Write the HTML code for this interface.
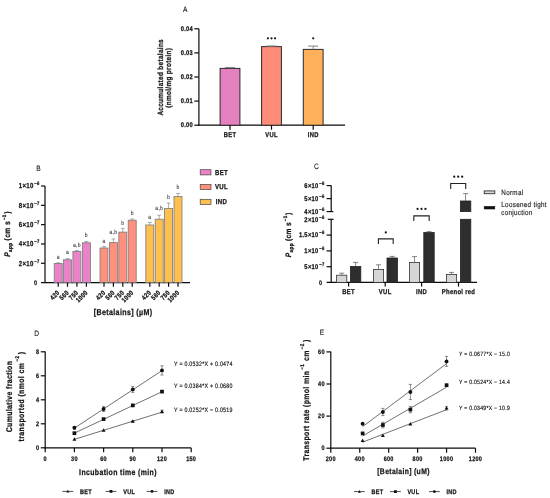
<!DOCTYPE html>
<html><head><meta charset="utf-8"><title>Figure</title>
<style>html,body{margin:0;padding:0;background:#fff;} svg{display:block;} text{font-family:"Liberation Sans", Arial, sans-serif;text-rendering:geometricPrecision;}</style>
</head><body>
<svg width="550" height="498" viewBox="0 0 550 498">
<rect width="550" height="498" fill="#fff"/>
<text font-size="7.92" stroke="#141414" stroke-width="0.1" text-anchor="middle" letter-spacing="0.372" fill="#141414" transform="translate(185.4 12.4) scale(0.8364 1)">A</text>
<line x1="198.9" y1="28.8" x2="198.9" y2="125.7" stroke="#0a0a0a" stroke-width="1.2"/>
<line x1="198.4" y1="125.2" x2="345" y2="125.2" stroke="#0a0a0a" stroke-width="1.2"/>
<line x1="194.3" y1="28.8" x2="198.9" y2="28.8" stroke="#0a0a0a" stroke-width="1.2"/>
<text font-size="6.82" font-weight="bold" stroke="#141414" stroke-width="0.25" text-anchor="end" letter-spacing="0.356" fill="#141414" transform="translate(193 31) scale(0.8364 1)">0.04</text>
<line x1="194.3" y1="52.9" x2="198.9" y2="52.9" stroke="#0a0a0a" stroke-width="1.2"/>
<text font-size="6.82" font-weight="bold" stroke="#141414" stroke-width="0.25" text-anchor="end" letter-spacing="0.356" fill="#141414" transform="translate(193 55.1) scale(0.8364 1)">0.03</text>
<line x1="194.3" y1="77" x2="198.9" y2="77" stroke="#0a0a0a" stroke-width="1.2"/>
<text font-size="6.82" font-weight="bold" stroke="#141414" stroke-width="0.25" text-anchor="end" letter-spacing="0.356" fill="#141414" transform="translate(193 79.2) scale(0.8364 1)">0.02</text>
<line x1="194.3" y1="101.1" x2="198.9" y2="101.1" stroke="#0a0a0a" stroke-width="1.2"/>
<text font-size="6.82" font-weight="bold" stroke="#141414" stroke-width="0.25" text-anchor="end" letter-spacing="0.356" fill="#141414" transform="translate(193 103.3) scale(0.8364 1)">0.01</text>
<line x1="194.3" y1="125.2" x2="198.9" y2="125.2" stroke="#0a0a0a" stroke-width="1.2"/>
<text font-size="6.82" font-weight="bold" stroke="#141414" stroke-width="0.25" text-anchor="end" letter-spacing="0.356" fill="#141414" transform="translate(193 127.4) scale(0.8364 1)">0.00</text>
<rect x="220.1" y="68.4" width="19.8" height="56.8" fill="#e580c0" stroke="#2a2a2a" stroke-width="1.0"/>
<line x1="230" y1="67.5" x2="230" y2="68.4" stroke="#777" stroke-width="0.9"/>
<line x1="225" y1="67.5" x2="235" y2="67.5" stroke="#888" stroke-width="1.1"/>
<line x1="230" y1="125.2" x2="230" y2="129.7" stroke="#0a0a0a" stroke-width="1.2"/>
<rect x="261.6" y="46.6" width="19.8" height="78.6" fill="#ff8c78" stroke="#2a2a2a" stroke-width="1.0"/>
<line x1="271.5" y1="46" x2="271.5" y2="46.6" stroke="#777" stroke-width="0.9"/>
<line x1="266.5" y1="46" x2="276.5" y2="46" stroke="#888" stroke-width="1.1"/>
<line x1="271.5" y1="125.2" x2="271.5" y2="129.7" stroke="#0a0a0a" stroke-width="1.2"/>
<circle cx="267.95" cy="38.3" r="1.1" fill="#111"/>
<circle cx="271.5" cy="38.3" r="1.1" fill="#111"/>
<circle cx="275.05" cy="38.3" r="1.1" fill="#111"/>
<rect x="303.3" y="49.4" width="19.8" height="75.8" fill="#ffb058" stroke="#2a2a2a" stroke-width="1.0"/>
<line x1="313.2" y1="46.1" x2="313.2" y2="49.4" stroke="#777" stroke-width="0.9"/>
<line x1="308.2" y1="46.1" x2="318.2" y2="46.1" stroke="#888" stroke-width="1.1"/>
<line x1="313.2" y1="125.2" x2="313.2" y2="129.7" stroke="#0a0a0a" stroke-width="1.2"/>
<circle cx="313.2" cy="38.3" r="1.1" fill="#111"/>
<text font-size="6.93" font-weight="bold" stroke="#141414" stroke-width="0.25" text-anchor="middle" letter-spacing="0.362" fill="#141414" transform="translate(230 136.7) scale(0.8364 1)">BET</text>
<text font-size="6.93" font-weight="bold" stroke="#141414" stroke-width="0.25" text-anchor="middle" letter-spacing="0.362" fill="#141414" transform="translate(271.5 136.7) scale(0.8364 1)">VUL</text>
<text font-size="6.93" font-weight="bold" stroke="#141414" stroke-width="0.25" text-anchor="middle" letter-spacing="0.362" fill="#141414" transform="translate(313.2 136.7) scale(0.8364 1)">IND</text>
<text font-size="7.65" font-weight="bold" stroke="#141414" stroke-width="0.25" text-anchor="middle" letter-spacing="0.399" fill="#141414" transform="translate(163.2 77.3) rotate(-90) scale(0.8364 1)">Accumulated betalains</text>
<text font-size="7.65" font-weight="bold" stroke="#141414" stroke-width="0.25" text-anchor="middle" letter-spacing="0.399" fill="#141414" transform="translate(170.9 77.7) rotate(-90) scale(0.8364 1)">(nmol/mg protein)</text>
<text font-size="7.92" stroke="#141414" stroke-width="0.1" text-anchor="middle" letter-spacing="0.372" fill="#141414" transform="translate(38.5 171.1) scale(0.8364 1)">B</text>
<line x1="45" y1="186" x2="45" y2="283.1" stroke="#0a0a0a" stroke-width="1.2"/>
<line x1="41" y1="282.6" x2="190" y2="282.6" stroke="#0a0a0a" stroke-width="1.2"/>
<line x1="41" y1="186" x2="45" y2="186" stroke="#0a0a0a" stroke-width="1.2"/>
<text font-size="7.26" font-weight="bold" stroke="#141414" stroke-width="0.25" text-anchor="end" letter-spacing="0.379" fill="#141414" transform="translate(39.6 188.3) scale(0.8364 1)">1×10<tspan font-size="5.06" dx="0.55" dy="-3.08">−6</tspan></text>
<line x1="41" y1="205.32" x2="45" y2="205.32" stroke="#0a0a0a" stroke-width="1.2"/>
<text font-size="7.26" font-weight="bold" stroke="#141414" stroke-width="0.25" text-anchor="end" letter-spacing="0.379" fill="#141414" transform="translate(39.6 207.62) scale(0.8364 1)">8×10<tspan font-size="5.06" dx="0.55" dy="-3.08">−7</tspan></text>
<line x1="41" y1="224.64" x2="45" y2="224.64" stroke="#0a0a0a" stroke-width="1.2"/>
<text font-size="7.26" font-weight="bold" stroke="#141414" stroke-width="0.25" text-anchor="end" letter-spacing="0.379" fill="#141414" transform="translate(39.6 226.94) scale(0.8364 1)">6×10<tspan font-size="5.06" dx="0.55" dy="-3.08">−7</tspan></text>
<line x1="41" y1="243.96" x2="45" y2="243.96" stroke="#0a0a0a" stroke-width="1.2"/>
<text font-size="7.26" font-weight="bold" stroke="#141414" stroke-width="0.25" text-anchor="end" letter-spacing="0.379" fill="#141414" transform="translate(39.6 246.26) scale(0.8364 1)">4×10<tspan font-size="5.06" dx="0.55" dy="-3.08">−7</tspan></text>
<line x1="41" y1="263.28" x2="45" y2="263.28" stroke="#0a0a0a" stroke-width="1.2"/>
<text font-size="7.26" font-weight="bold" stroke="#141414" stroke-width="0.25" text-anchor="end" letter-spacing="0.379" fill="#141414" transform="translate(39.6 265.58) scale(0.8364 1)">2×10<tspan font-size="5.06" dx="0.55" dy="-3.08">−7</tspan></text>
<text font-size="6.49" font-weight="bold" stroke="#141414" stroke-width="0.25" text-anchor="end" letter-spacing="0.339" fill="#141414" transform="translate(37.2 284.7) scale(0.8364 1)">0</text>
<rect x="54.2" y="263.4" width="8" height="19.2" fill="#ea82c8" stroke="#7a7a7a" stroke-width="0.8"/>
<line x1="58.2" y1="262.8" x2="58.2" y2="263.4" stroke="#777" stroke-width="0.6"/>
<line x1="56.2" y1="262.8" x2="60.2" y2="262.8" stroke="#777" stroke-width="0.6"/>
<line x1="58.2" y1="282.6" x2="58.2" y2="286.8" stroke="#0a0a0a" stroke-width="1.2"/>
<text font-size="6.05" stroke="#3a3a3a" stroke-width="0.08" text-anchor="middle" letter-spacing="0.284" fill="#3a3a3a" transform="translate(58.2 258.5) scale(0.8364 1)">a</text>
<rect x="63.5" y="259.8" width="8" height="22.8" fill="#ea82c8" stroke="#7a7a7a" stroke-width="0.8"/>
<line x1="67.5" y1="258.6" x2="67.5" y2="259.8" stroke="#777" stroke-width="0.6"/>
<line x1="65.5" y1="258.6" x2="69.5" y2="258.6" stroke="#777" stroke-width="0.6"/>
<line x1="67.5" y1="282.6" x2="67.5" y2="286.8" stroke="#0a0a0a" stroke-width="1.2"/>
<text font-size="6.05" stroke="#3a3a3a" stroke-width="0.08" text-anchor="middle" letter-spacing="0.284" fill="#3a3a3a" transform="translate(67.5 253.9) scale(0.8364 1)">a</text>
<rect x="72.9" y="251.5" width="8" height="31.1" fill="#ea82c8" stroke="#7a7a7a" stroke-width="0.8"/>
<line x1="76.9" y1="250.6" x2="76.9" y2="251.5" stroke="#777" stroke-width="0.6"/>
<line x1="74.9" y1="250.6" x2="78.9" y2="250.6" stroke="#777" stroke-width="0.6"/>
<line x1="76.9" y1="282.6" x2="76.9" y2="286.8" stroke="#0a0a0a" stroke-width="1.2"/>
<text font-size="6.05" stroke="#3a3a3a" stroke-width="0.08" text-anchor="middle" letter-spacing="0.284" fill="#3a3a3a" transform="translate(76.9 246.5) scale(0.8364 1)">a,b</text>
<rect x="82.4" y="242.8" width="8" height="39.8" fill="#ea82c8" stroke="#7a7a7a" stroke-width="0.8"/>
<line x1="86.4" y1="241.6" x2="86.4" y2="242.8" stroke="#777" stroke-width="0.6"/>
<line x1="84.4" y1="241.6" x2="88.4" y2="241.6" stroke="#777" stroke-width="0.6"/>
<line x1="86.4" y1="282.6" x2="86.4" y2="286.8" stroke="#0a0a0a" stroke-width="1.2"/>
<text font-size="6.05" stroke="#3a3a3a" stroke-width="0.08" text-anchor="middle" letter-spacing="0.284" fill="#3a3a3a" transform="translate(86.4 237.1) scale(0.8364 1)">b</text>
<text font-size="6.71" font-weight="bold" stroke="#141414" stroke-width="0.25" text-anchor="end" letter-spacing="0.350" fill="#141414" transform="translate(60 293.2) rotate(-45) scale(0.8364 1)">420</text>
<text font-size="6.71" font-weight="bold" stroke="#141414" stroke-width="0.25" text-anchor="end" letter-spacing="0.350" fill="#141414" transform="translate(69.3 293.2) rotate(-45) scale(0.8364 1)">560</text>
<text font-size="6.71" font-weight="bold" stroke="#141414" stroke-width="0.25" text-anchor="end" letter-spacing="0.350" fill="#141414" transform="translate(78.7 293.2) rotate(-45) scale(0.8364 1)">750</text>
<text font-size="6.71" font-weight="bold" stroke="#141414" stroke-width="0.25" text-anchor="end" letter-spacing="0.350" fill="#141414" transform="translate(88.2 293.2) rotate(-45) scale(0.8364 1)">1000</text>
<rect x="100" y="248" width="8" height="34.6" fill="#ff907e" stroke="#7a7a7a" stroke-width="0.8"/>
<line x1="104" y1="246.6" x2="104" y2="248" stroke="#777" stroke-width="0.6"/>
<line x1="102" y1="246.6" x2="106" y2="246.6" stroke="#777" stroke-width="0.6"/>
<line x1="104" y1="282.6" x2="104" y2="286.8" stroke="#0a0a0a" stroke-width="1.2"/>
<text font-size="6.05" stroke="#3a3a3a" stroke-width="0.08" text-anchor="middle" letter-spacing="0.284" fill="#3a3a3a" transform="translate(104 242.5) scale(0.8364 1)">a</text>
<rect x="109.4" y="242.6" width="8" height="40" fill="#ff907e" stroke="#7a7a7a" stroke-width="0.8"/>
<line x1="113.4" y1="239" x2="113.4" y2="242.6" stroke="#777" stroke-width="0.6"/>
<line x1="111.4" y1="239" x2="115.4" y2="239" stroke="#777" stroke-width="0.6"/>
<line x1="113.4" y1="282.6" x2="113.4" y2="286.8" stroke="#0a0a0a" stroke-width="1.2"/>
<text font-size="6.05" stroke="#3a3a3a" stroke-width="0.08" text-anchor="middle" letter-spacing="0.284" fill="#3a3a3a" transform="translate(113.4 233.9) scale(0.8364 1)">a,b</text>
<rect x="118.8" y="232.1" width="8" height="50.5" fill="#ff907e" stroke="#7a7a7a" stroke-width="0.8"/>
<line x1="122.8" y1="228.4" x2="122.8" y2="232.1" stroke="#777" stroke-width="0.6"/>
<line x1="120.8" y1="228.4" x2="124.8" y2="228.4" stroke="#777" stroke-width="0.6"/>
<line x1="122.8" y1="282.6" x2="122.8" y2="286.8" stroke="#0a0a0a" stroke-width="1.2"/>
<text font-size="6.05" stroke="#3a3a3a" stroke-width="0.08" text-anchor="middle" letter-spacing="0.284" fill="#3a3a3a" transform="translate(122.8 224.5) scale(0.8364 1)">b</text>
<rect x="128.2" y="220.2" width="8" height="62.4" fill="#ff907e" stroke="#7a7a7a" stroke-width="0.8"/>
<line x1="132.2" y1="219" x2="132.2" y2="220.2" stroke="#777" stroke-width="0.6"/>
<line x1="130.2" y1="219" x2="134.2" y2="219" stroke="#777" stroke-width="0.6"/>
<line x1="132.2" y1="282.6" x2="132.2" y2="286.8" stroke="#0a0a0a" stroke-width="1.2"/>
<text font-size="6.05" stroke="#3a3a3a" stroke-width="0.08" text-anchor="middle" letter-spacing="0.284" fill="#3a3a3a" transform="translate(132.2 214.5) scale(0.8364 1)">b</text>
<text font-size="6.71" font-weight="bold" stroke="#141414" stroke-width="0.25" text-anchor="end" letter-spacing="0.350" fill="#141414" transform="translate(105.8 293.2) rotate(-45) scale(0.8364 1)">420</text>
<text font-size="6.71" font-weight="bold" stroke="#141414" stroke-width="0.25" text-anchor="end" letter-spacing="0.350" fill="#141414" transform="translate(115.2 293.2) rotate(-45) scale(0.8364 1)">560</text>
<text font-size="6.71" font-weight="bold" stroke="#141414" stroke-width="0.25" text-anchor="end" letter-spacing="0.350" fill="#141414" transform="translate(124.6 293.2) rotate(-45) scale(0.8364 1)">750</text>
<text font-size="6.71" font-weight="bold" stroke="#141414" stroke-width="0.25" text-anchor="end" letter-spacing="0.350" fill="#141414" transform="translate(134 293.2) rotate(-45) scale(0.8364 1)">1000</text>
<rect x="145.8" y="225" width="8" height="57.6" fill="#fdbf50" stroke="#7a7a7a" stroke-width="0.8"/>
<line x1="149.8" y1="222.4" x2="149.8" y2="225" stroke="#777" stroke-width="0.6"/>
<line x1="147.8" y1="222.4" x2="151.8" y2="222.4" stroke="#777" stroke-width="0.6"/>
<line x1="149.8" y1="282.6" x2="149.8" y2="286.8" stroke="#0a0a0a" stroke-width="1.2"/>
<text font-size="6.05" stroke="#3a3a3a" stroke-width="0.08" text-anchor="middle" letter-spacing="0.284" fill="#3a3a3a" transform="translate(149.8 218.9) scale(0.8364 1)">a</text>
<rect x="155.2" y="219.2" width="8" height="63.4" fill="#fdbf50" stroke="#7a7a7a" stroke-width="0.8"/>
<line x1="159.2" y1="215.2" x2="159.2" y2="219.2" stroke="#777" stroke-width="0.6"/>
<line x1="157.2" y1="215.2" x2="161.2" y2="215.2" stroke="#777" stroke-width="0.6"/>
<line x1="159.2" y1="282.6" x2="159.2" y2="286.8" stroke="#0a0a0a" stroke-width="1.2"/>
<text font-size="6.05" stroke="#3a3a3a" stroke-width="0.08" text-anchor="middle" letter-spacing="0.284" fill="#3a3a3a" transform="translate(159.2 209.9) scale(0.8364 1)">a,b</text>
<rect x="164.6" y="208.4" width="8" height="74.2" fill="#fdbf50" stroke="#7a7a7a" stroke-width="0.8"/>
<line x1="168.6" y1="203" x2="168.6" y2="208.4" stroke="#777" stroke-width="0.6"/>
<line x1="166.6" y1="203" x2="170.6" y2="203" stroke="#777" stroke-width="0.6"/>
<line x1="168.6" y1="282.6" x2="168.6" y2="286.8" stroke="#0a0a0a" stroke-width="1.2"/>
<text font-size="6.05" stroke="#3a3a3a" stroke-width="0.08" text-anchor="middle" letter-spacing="0.284" fill="#3a3a3a" transform="translate(168.6 198.5) scale(0.8364 1)">b</text>
<rect x="174" y="196.4" width="8" height="86.2" fill="#fdbf50" stroke="#7a7a7a" stroke-width="0.8"/>
<line x1="178" y1="193.4" x2="178" y2="196.4" stroke="#777" stroke-width="0.6"/>
<line x1="176" y1="193.4" x2="180" y2="193.4" stroke="#777" stroke-width="0.6"/>
<line x1="178" y1="282.6" x2="178" y2="286.8" stroke="#0a0a0a" stroke-width="1.2"/>
<text font-size="6.05" stroke="#3a3a3a" stroke-width="0.08" text-anchor="middle" letter-spacing="0.284" fill="#3a3a3a" transform="translate(178 188.5) scale(0.8364 1)">b</text>
<text font-size="6.71" font-weight="bold" stroke="#141414" stroke-width="0.25" text-anchor="end" letter-spacing="0.350" fill="#141414" transform="translate(151.6 293.2) rotate(-45) scale(0.8364 1)">420</text>
<text font-size="6.71" font-weight="bold" stroke="#141414" stroke-width="0.25" text-anchor="end" letter-spacing="0.350" fill="#141414" transform="translate(161 293.2) rotate(-45) scale(0.8364 1)">560</text>
<text font-size="6.71" font-weight="bold" stroke="#141414" stroke-width="0.25" text-anchor="end" letter-spacing="0.350" fill="#141414" transform="translate(170.4 293.2) rotate(-45) scale(0.8364 1)">750</text>
<text font-size="6.71" font-weight="bold" stroke="#141414" stroke-width="0.25" text-anchor="end" letter-spacing="0.350" fill="#141414" transform="translate(179.8 293.2) rotate(-45) scale(0.8364 1)">1000</text>
<text font-size="8.47" font-weight="bold" stroke="#141414" stroke-width="0.25" letter-spacing="0.442" fill="#141414" transform="translate(93.7 314.6) scale(0.8364 1)">[Betalains] (µM)</text>
<text font-size="8.14" font-weight="bold" stroke="#141414" stroke-width="0.25" text-anchor="middle" letter-spacing="0.425" fill="#141414" transform="translate(10.2 234) rotate(-90) scale(0.8364 1)"><tspan font-style="italic">P</tspan><tspan font-size="5.5" dy="1.76">app</tspan><tspan dy="-1.76"> (cm s</tspan><tspan font-size="5.28" dx="0.88" dy="-3.96">−1</tspan><tspan dx="0.66" dy="3.96">)</tspan></text>
<rect x="200.2" y="169.7" width="10.8" height="5.2" fill="#ea82c8" stroke="#444" stroke-width="0.7"/>
<text font-size="7.26" font-weight="bold" stroke="#141414" stroke-width="0.25" letter-spacing="0.379" fill="#141414" transform="translate(215 174.6) scale(0.8364 1)">BET</text>
<rect x="200.2" y="184.4" width="10.8" height="5.2" fill="#ff907e" stroke="#444" stroke-width="0.7"/>
<text font-size="7.26" font-weight="bold" stroke="#141414" stroke-width="0.25" letter-spacing="0.379" fill="#141414" transform="translate(215 189.3) scale(0.8364 1)">VUL</text>
<rect x="200.2" y="199.3" width="10.8" height="5.2" fill="#fdbf50" stroke="#444" stroke-width="0.7"/>
<text font-size="7.26" font-weight="bold" stroke="#141414" stroke-width="0.25" letter-spacing="0.379" fill="#141414" transform="translate(215.8 204.2) scale(0.8364 1)">IND</text>
<text font-size="7.92" stroke="#141414" stroke-width="0.1" text-anchor="middle" letter-spacing="0.372" fill="#141414" transform="translate(316.6 169.4) scale(0.8364 1)">C</text>
<line x1="331.2" y1="185.6" x2="331.2" y2="211.6" stroke="#0a0a0a" stroke-width="1.2"/>
<line x1="326.6" y1="185.6" x2="331.2" y2="185.6" stroke="#0a0a0a" stroke-width="1.2"/>
<text font-size="6.93" font-weight="bold" stroke="#141414" stroke-width="0.25" text-anchor="end" letter-spacing="0.362" fill="#141414" transform="translate(324.6 187.8) scale(0.8364 1)">6×10<tspan font-size="5.06" dx="0.66" dy="-2.97">−6</tspan></text>
<line x1="326.6" y1="198.6" x2="331.2" y2="198.6" stroke="#0a0a0a" stroke-width="1.2"/>
<text font-size="6.93" font-weight="bold" stroke="#141414" stroke-width="0.25" text-anchor="end" letter-spacing="0.362" fill="#141414" transform="translate(324.6 200.8) scale(0.8364 1)">5×10<tspan font-size="5.06" dx="0.66" dy="-2.97">−6</tspan></text>
<line x1="326.6" y1="211.6" x2="333.4" y2="211.6" stroke="#0a0a0a" stroke-width="1.2"/>
<text font-size="6.93" font-weight="bold" stroke="#141414" stroke-width="0.25" text-anchor="end" letter-spacing="0.362" fill="#141414" transform="translate(324.6 213.8) scale(0.8364 1)">4×10<tspan font-size="5.06" dx="0.66" dy="-2.97">−6</tspan></text>
<line x1="331.2" y1="219.3" x2="331.2" y2="282.9" stroke="#0a0a0a" stroke-width="1.2"/>
<line x1="326.6" y1="282.4" x2="477" y2="282.4" stroke="#0a0a0a" stroke-width="1.2"/>
<line x1="327.8" y1="219.3" x2="333.6" y2="219.3" stroke="#0a0a0a" stroke-width="1.2"/>
<text font-size="6.93" font-weight="bold" stroke="#141414" stroke-width="0.25" text-anchor="end" letter-spacing="0.362" fill="#141414" transform="translate(324.6 221.5) scale(0.8364 1)">2×10<tspan font-size="5.06" dx="0.66" dy="-2.97">−6</tspan></text>
<line x1="326.6" y1="235.1" x2="331.2" y2="235.1" stroke="#0a0a0a" stroke-width="1.2"/>
<text font-size="6.93" font-weight="bold" stroke="#141414" stroke-width="0.25" text-anchor="end" letter-spacing="0.362" fill="#141414" transform="translate(324.6 237.3) scale(0.8364 1)">1.5×10<tspan font-size="5.06" dx="0.66" dy="-2.97">−6</tspan></text>
<line x1="326.6" y1="250.9" x2="331.2" y2="250.9" stroke="#0a0a0a" stroke-width="1.2"/>
<text font-size="6.93" font-weight="bold" stroke="#141414" stroke-width="0.25" text-anchor="end" letter-spacing="0.362" fill="#141414" transform="translate(324.6 253.1) scale(0.8364 1)">1×10<tspan font-size="5.06" dx="0.66" dy="-2.97">−6</tspan></text>
<line x1="326.6" y1="266.7" x2="331.2" y2="266.7" stroke="#0a0a0a" stroke-width="1.2"/>
<text font-size="6.93" font-weight="bold" stroke="#141414" stroke-width="0.25" text-anchor="end" letter-spacing="0.362" fill="#141414" transform="translate(324.6 268.9) scale(0.8364 1)">5×10<tspan font-size="5.06" dx="0.66" dy="-2.97">−7</tspan></text>
<text font-size="6.49" font-weight="bold" stroke="#141414" stroke-width="0.25" text-anchor="end" letter-spacing="0.339" fill="#141414" transform="translate(322.4 284.5) scale(0.8364 1)">0</text>
<rect x="336.6" y="275.2" width="10.2" height="7.2" fill="#d6d6d6" stroke="#333" stroke-width="0.8"/>
<line x1="341.7" y1="273.2" x2="341.7" y2="275.2" stroke="#555" stroke-width="0.7"/>
<line x1="339.2" y1="273.2" x2="344.2" y2="273.2" stroke="#555" stroke-width="0.7"/>
<rect x="350.4" y="266.4" width="10.4" height="16" fill="#2e2e2e" stroke="#222" stroke-width="0.8"/>
<line x1="355.6" y1="262.4" x2="355.6" y2="266.4" stroke="#555" stroke-width="0.7"/>
<line x1="353.1" y1="262.4" x2="358.1" y2="262.4" stroke="#555" stroke-width="0.7"/>
<line x1="348.6" y1="282.4" x2="348.6" y2="286.6" stroke="#0a0a0a" stroke-width="1.2"/>
<text font-size="7.04" font-weight="bold" stroke="#141414" stroke-width="0.25" text-anchor="middle" letter-spacing="0.367" fill="#141414" transform="translate(348.6 294.3) scale(0.8364 1)">BET</text>
<rect x="373.4" y="269.4" width="10.2" height="13" fill="#d6d6d6" stroke="#333" stroke-width="0.8"/>
<line x1="378.5" y1="264.8" x2="378.5" y2="269.4" stroke="#555" stroke-width="0.7"/>
<line x1="376" y1="264.8" x2="381" y2="264.8" stroke="#555" stroke-width="0.7"/>
<rect x="387" y="258" width="10.4" height="24.4" fill="#2e2e2e" stroke="#222" stroke-width="0.8"/>
<line x1="392.2" y1="256.4" x2="392.2" y2="258" stroke="#555" stroke-width="0.7"/>
<line x1="389.7" y1="256.4" x2="394.7" y2="256.4" stroke="#555" stroke-width="0.7"/>
<line x1="385.2" y1="282.4" x2="385.2" y2="286.6" stroke="#0a0a0a" stroke-width="1.2"/>
<text font-size="7.04" font-weight="bold" stroke="#141414" stroke-width="0.25" text-anchor="middle" letter-spacing="0.367" fill="#141414" transform="translate(385.2 294.3) scale(0.8364 1)">VUL</text>
<rect x="409.4" y="262.4" width="10.2" height="20" fill="#d6d6d6" stroke="#333" stroke-width="0.8"/>
<line x1="414.5" y1="256.6" x2="414.5" y2="262.4" stroke="#555" stroke-width="0.7"/>
<line x1="412" y1="256.6" x2="417" y2="256.6" stroke="#555" stroke-width="0.7"/>
<rect x="423.8" y="232.5" width="10.4" height="49.9" fill="#2e2e2e" stroke="#222" stroke-width="0.8"/>
<line x1="429" y1="231.6" x2="429" y2="232.5" stroke="#555" stroke-width="0.7"/>
<line x1="426.5" y1="231.6" x2="431.5" y2="231.6" stroke="#555" stroke-width="0.7"/>
<line x1="421.6" y1="282.4" x2="421.6" y2="286.6" stroke="#0a0a0a" stroke-width="1.2"/>
<text font-size="7.04" font-weight="bold" stroke="#141414" stroke-width="0.25" text-anchor="middle" letter-spacing="0.367" fill="#141414" transform="translate(421.6 294.3) scale(0.8364 1)">IND</text>
<rect x="446.4" y="274.4" width="10.2" height="8" fill="#d6d6d6" stroke="#333" stroke-width="0.8"/>
<line x1="451.5" y1="272.4" x2="451.5" y2="274.4" stroke="#555" stroke-width="0.7"/>
<line x1="449" y1="272.4" x2="454" y2="272.4" stroke="#555" stroke-width="0.7"/>
<rect x="460.4" y="219.3" width="10.4" height="63.1" fill="#2e2e2e" stroke="#222" stroke-width="0.8"/>
<line x1="458.5" y1="282.4" x2="458.5" y2="286.6" stroke="#0a0a0a" stroke-width="1.2"/>
<text font-size="7.04" font-weight="bold" stroke="#141414" stroke-width="0.25" text-anchor="middle" letter-spacing="0.367" fill="#141414" transform="translate(458.5 294.3) scale(0.8364 1)">Phenol red</text>
<rect x="460.4" y="201" width="10.4" height="10.6" fill="#2e2e2e" stroke="#222" stroke-width="0.8"/>
<line x1="465.6" y1="193.6" x2="465.6" y2="201" stroke="#555" stroke-width="0.7"/>
<line x1="463.1" y1="193.6" x2="468.1" y2="193.6" stroke="#555" stroke-width="0.7"/>
<polyline points="378.4,244 378.4,238.9 393.2,238.9 393.2,244" fill="none" stroke="#222" stroke-width="1.1"/>
<circle cx="385.8" cy="232.4" r="1.1" fill="#111"/>
<polyline points="413.8,221 413.8,215.9 429.2,215.9 429.2,221" fill="none" stroke="#222" stroke-width="1.1"/>
<circle cx="417.55" cy="208.9" r="1.1" fill="#111"/>
<circle cx="421.5" cy="208.9" r="1.1" fill="#111"/>
<circle cx="425.45" cy="208.9" r="1.1" fill="#111"/>
<polyline points="450.7,189 450.7,183.5 465.7,183.5 465.7,189" fill="none" stroke="#222" stroke-width="1.1"/>
<circle cx="454.25" cy="176.7" r="1.1" fill="#111"/>
<circle cx="458.2" cy="176.7" r="1.1" fill="#111"/>
<circle cx="462.15" cy="176.7" r="1.1" fill="#111"/>
<text font-size="7.92" font-weight="bold" stroke="#141414" stroke-width="0.25" text-anchor="middle" letter-spacing="0.413" fill="#141414" transform="translate(291.4 234.8) rotate(-90) scale(0.8364 1)"><tspan font-style="italic">P</tspan><tspan font-size="5.5" dy="1.76">app</tspan><tspan dy="-1.76"> (cm s</tspan><tspan font-size="5.28" dx="0.88" dy="-3.96">−1</tspan><tspan dx="0.66" dy="3.96">)</tspan></text>
<rect x="484.2" y="190.9" width="10.6" height="2.8" fill="#d6d6d6" stroke="#333" stroke-width="0.9"/>
<rect x="484.2" y="206.4" width="10.6" height="2.6" fill="#111" stroke="#111" stroke-width="0.6"/>
<text font-size="7.54" stroke="#1a1a1a" stroke-width="0.15" letter-spacing="0.354" fill="#1a1a1a" transform="translate(501.3 195) scale(0.8364 1)">Normal</text>
<text font-size="7.54" stroke="#1a1a1a" stroke-width="0.15" letter-spacing="0.354" fill="#1a1a1a" transform="translate(501.3 206.8) scale(0.8364 1)">Loosened tight</text>
<text font-size="7.54" stroke="#1a1a1a" stroke-width="0.15" letter-spacing="0.354" fill="#1a1a1a" transform="translate(501.3 214.9) scale(0.8364 1)">conjuction</text>
<text font-size="7.92" stroke="#141414" stroke-width="0.1" text-anchor="middle" letter-spacing="0.372" fill="#141414" transform="translate(36.7 335.6) scale(0.8364 1)">D</text>
<line x1="45.2" y1="351.4" x2="45.2" y2="448.3" stroke="#0a0a0a" stroke-width="1.2"/>
<line x1="44.7" y1="447.8" x2="191" y2="447.8" stroke="#0a0a0a" stroke-width="1.2"/>
<line x1="40.8" y1="447.8" x2="45.2" y2="447.8" stroke="#0a0a0a" stroke-width="1.2"/>
<text font-size="6.6" font-weight="bold" stroke="#141414" stroke-width="0.25" text-anchor="end" letter-spacing="0.344" fill="#141414" transform="translate(39.3 450) scale(0.8364 1)">0</text>
<line x1="40.8" y1="423.8" x2="45.2" y2="423.8" stroke="#0a0a0a" stroke-width="1.2"/>
<text font-size="6.6" font-weight="bold" stroke="#141414" stroke-width="0.25" text-anchor="end" letter-spacing="0.344" fill="#141414" transform="translate(39.3 426) scale(0.8364 1)">2</text>
<line x1="40.8" y1="399.8" x2="45.2" y2="399.8" stroke="#0a0a0a" stroke-width="1.2"/>
<text font-size="6.6" font-weight="bold" stroke="#141414" stroke-width="0.25" text-anchor="end" letter-spacing="0.344" fill="#141414" transform="translate(39.3 402) scale(0.8364 1)">4</text>
<line x1="40.8" y1="375.8" x2="45.2" y2="375.8" stroke="#0a0a0a" stroke-width="1.2"/>
<text font-size="6.6" font-weight="bold" stroke="#141414" stroke-width="0.25" text-anchor="end" letter-spacing="0.344" fill="#141414" transform="translate(39.3 378) scale(0.8364 1)">6</text>
<line x1="40.8" y1="351.8" x2="45.2" y2="351.8" stroke="#0a0a0a" stroke-width="1.2"/>
<text font-size="6.6" font-weight="bold" stroke="#141414" stroke-width="0.25" text-anchor="end" letter-spacing="0.344" fill="#141414" transform="translate(39.3 354) scale(0.8364 1)">8</text>
<line x1="45.2" y1="447.8" x2="45.2" y2="452.3" stroke="#0a0a0a" stroke-width="1.2"/>
<text font-size="6.6" font-weight="bold" stroke="#141414" stroke-width="0.25" text-anchor="middle" letter-spacing="0.344" fill="#141414" transform="translate(45.2 460.6) scale(0.8364 1)">0</text>
<line x1="74.4" y1="447.8" x2="74.4" y2="452.3" stroke="#0a0a0a" stroke-width="1.2"/>
<text font-size="6.6" font-weight="bold" stroke="#141414" stroke-width="0.25" text-anchor="middle" letter-spacing="0.344" fill="#141414" transform="translate(74.4 460.6) scale(0.8364 1)">30</text>
<line x1="103.6" y1="447.8" x2="103.6" y2="452.3" stroke="#0a0a0a" stroke-width="1.2"/>
<text font-size="6.6" font-weight="bold" stroke="#141414" stroke-width="0.25" text-anchor="middle" letter-spacing="0.344" fill="#141414" transform="translate(103.6 460.6) scale(0.8364 1)">60</text>
<line x1="132.8" y1="447.8" x2="132.8" y2="452.3" stroke="#0a0a0a" stroke-width="1.2"/>
<text font-size="6.6" font-weight="bold" stroke="#141414" stroke-width="0.25" text-anchor="middle" letter-spacing="0.344" fill="#141414" transform="translate(132.8 460.6) scale(0.8364 1)">90</text>
<line x1="162" y1="447.8" x2="162" y2="452.3" stroke="#0a0a0a" stroke-width="1.2"/>
<text font-size="6.6" font-weight="bold" stroke="#141414" stroke-width="0.25" text-anchor="middle" letter-spacing="0.344" fill="#141414" transform="translate(162 460.6) scale(0.8364 1)">120</text>
<line x1="191.19" y1="447.8" x2="191.19" y2="452.3" stroke="#0a0a0a" stroke-width="1.2"/>
<text font-size="6.6" font-weight="bold" stroke="#141414" stroke-width="0.25" text-anchor="middle" letter-spacing="0.344" fill="#141414" transform="translate(191.19 460.6) scale(0.8364 1)">150</text>
<text font-size="8.3" font-weight="bold" stroke="#141414" stroke-width="0.25" text-anchor="middle" letter-spacing="0.433" fill="#141414" transform="translate(118 475) scale(0.8364 1)">Incubation time (min)</text>
<text font-size="8.3" font-weight="bold" stroke="#141414" stroke-width="0.25" text-anchor="middle" letter-spacing="0.433" fill="#141414" transform="translate(12.2 396.5) rotate(-90) scale(0.8364 1)">Cumulative fraction</text>
<text font-size="8.3" font-weight="bold" stroke="#141414" stroke-width="0.25" text-anchor="middle" letter-spacing="0.433" fill="#141414" transform="translate(23.6 396.5) rotate(-90) scale(0.8364 1)">transported (nmol cm<tspan font-size="5.5" dx="1.54" dy="-4.4">−2</tspan><tspan dx="1.54" dy="4.4">)</tspan></text>
<line x1="74.4" y1="439.35" x2="162" y2="412.13" stroke="#333" stroke-width="0.7"/>
<polygon points="74.4,437.36 76.34,440.79 72.46,440.79" fill="#111"/>
<polygon points="103.6,428.26 105.54,431.69 101.66,431.69" fill="#111"/>
<line x1="132.8" y1="420.8" x2="132.8" y2="422" stroke="#444" stroke-width="0.6"/>
<line x1="131.2" y1="420.8" x2="134.4" y2="420.8" stroke="#444" stroke-width="0.6"/>
<line x1="131.2" y1="422" x2="134.4" y2="422" stroke="#444" stroke-width="0.6"/>
<polygon points="132.8,419.36 134.74,422.79 130.85,422.79" fill="#111"/>
<line x1="162" y1="410.1" x2="162" y2="413.1" stroke="#444" stroke-width="0.6"/>
<line x1="160.4" y1="410.1" x2="163.6" y2="410.1" stroke="#444" stroke-width="0.6"/>
<line x1="160.4" y1="413.1" x2="163.6" y2="413.1" stroke="#444" stroke-width="0.6"/>
<polygon points="162,409.56 163.94,412.99 160.05,412.99" fill="#111"/>
<line x1="74.4" y1="433.16" x2="162" y2="391.69" stroke="#333" stroke-width="0.7"/>
<rect x="72.55" y="431.35" width="3.7" height="3.7" fill="#111"/>
<rect x="101.75" y="417.25" width="3.7" height="3.7" fill="#111"/>
<line x1="132.8" y1="404.6" x2="132.8" y2="406.2" stroke="#444" stroke-width="0.6"/>
<line x1="131.2" y1="404.6" x2="134.4" y2="404.6" stroke="#444" stroke-width="0.6"/>
<line x1="131.2" y1="406.2" x2="134.4" y2="406.2" stroke="#444" stroke-width="0.6"/>
<rect x="130.95" y="403.55" width="3.7" height="3.7" fill="#111"/>
<line x1="162" y1="390.6" x2="162" y2="392.6" stroke="#444" stroke-width="0.6"/>
<line x1="160.4" y1="390.6" x2="163.6" y2="390.6" stroke="#444" stroke-width="0.6"/>
<line x1="160.4" y1="392.6" x2="163.6" y2="392.6" stroke="#444" stroke-width="0.6"/>
<rect x="160.15" y="389.75" width="3.7" height="3.7" fill="#111"/>
<line x1="74.4" y1="428.08" x2="162" y2="370.62" stroke="#333" stroke-width="0.7"/>
<line x1="74.4" y1="426.6" x2="74.4" y2="429" stroke="#444" stroke-width="0.6"/>
<line x1="72.8" y1="426.6" x2="76" y2="426.6" stroke="#444" stroke-width="0.6"/>
<line x1="72.8" y1="429" x2="76" y2="429" stroke="#444" stroke-width="0.6"/>
<circle cx="74.4" cy="427.8" r="1.94" fill="#111"/>
<line x1="103.6" y1="406.5" x2="103.6" y2="411.5" stroke="#444" stroke-width="0.6"/>
<line x1="102" y1="406.5" x2="105.2" y2="406.5" stroke="#444" stroke-width="0.6"/>
<line x1="102" y1="411.5" x2="105.2" y2="411.5" stroke="#444" stroke-width="0.6"/>
<circle cx="103.6" cy="409" r="1.94" fill="#111"/>
<line x1="132.8" y1="386.4" x2="132.8" y2="392.4" stroke="#444" stroke-width="0.6"/>
<line x1="131.2" y1="386.4" x2="134.4" y2="386.4" stroke="#444" stroke-width="0.6"/>
<line x1="131.2" y1="392.4" x2="134.4" y2="392.4" stroke="#444" stroke-width="0.6"/>
<circle cx="132.8" cy="389.4" r="1.94" fill="#111"/>
<line x1="162" y1="365.8" x2="162" y2="375" stroke="#444" stroke-width="0.6"/>
<line x1="160.4" y1="365.8" x2="163.6" y2="365.8" stroke="#444" stroke-width="0.6"/>
<line x1="160.4" y1="375" x2="163.6" y2="375" stroke="#444" stroke-width="0.6"/>
<circle cx="162" cy="370.4" r="1.94" fill="#111"/>
<text font-size="6.33" stroke="#111" stroke-width="0.15" letter-spacing="0.297" fill="#111" transform="translate(174 365.6) scale(0.8364 1)">Y = 0.0532*X + 0.0474</text>
<text font-size="6.33" stroke="#111" stroke-width="0.15" letter-spacing="0.297" fill="#111" transform="translate(174 387.6) scale(0.8364 1)">Y = 0.0384*X + 0.0680</text>
<text font-size="6.33" stroke="#111" stroke-width="0.15" letter-spacing="0.297" fill="#111" transform="translate(174 412.2) scale(0.8364 1)">Y = 0.0252*X − 0.0519</text>
<line x1="62.4" y1="491.4" x2="73.2" y2="491.4" stroke="#222" stroke-width="0.8"/>
<polygon points="67.8,489.86 69.27,492.45 66.33,492.45" fill="#111"/>
<text font-size="6.6" font-weight="bold" stroke="#141414" stroke-width="0.25" letter-spacing="0.344" fill="#141414" transform="translate(80 493.6) scale(0.8364 1)">BET</text>
<line x1="105.6" y1="491.4" x2="116.4" y2="491.4" stroke="#222" stroke-width="0.8"/>
<rect x="109.6" y="490" width="2.8" height="2.8" fill="#111"/>
<text font-size="6.6" font-weight="bold" stroke="#141414" stroke-width="0.25" letter-spacing="0.344" fill="#141414" transform="translate(123.2 493.6) scale(0.8364 1)">VUL</text>
<line x1="146.6" y1="491.4" x2="157.4" y2="491.4" stroke="#222" stroke-width="0.8"/>
<circle cx="152" cy="491.4" r="1.47" fill="#111"/>
<text font-size="6.6" font-weight="bold" stroke="#141414" stroke-width="0.25" letter-spacing="0.344" fill="#141414" transform="translate(164.2 493.6) scale(0.8364 1)">IND</text>
<text font-size="7.92" stroke="#141414" stroke-width="0.1" text-anchor="middle" letter-spacing="0.372" fill="#141414" transform="translate(322.1 334.9) scale(0.8364 1)">E</text>
<line x1="330.8" y1="351.4" x2="330.8" y2="448.7" stroke="#0a0a0a" stroke-width="1.2"/>
<line x1="330.3" y1="448.2" x2="475.5" y2="448.2" stroke="#0a0a0a" stroke-width="1.2"/>
<line x1="326.4" y1="448.2" x2="330.8" y2="448.2" stroke="#0a0a0a" stroke-width="1.2"/>
<text font-size="6.6" font-weight="bold" stroke="#141414" stroke-width="0.25" text-anchor="end" letter-spacing="0.344" fill="#141414" transform="translate(324.8 450.4) scale(0.8364 1)">0</text>
<line x1="326.4" y1="416.1" x2="330.8" y2="416.1" stroke="#0a0a0a" stroke-width="1.2"/>
<text font-size="6.6" font-weight="bold" stroke="#141414" stroke-width="0.25" text-anchor="end" letter-spacing="0.344" fill="#141414" transform="translate(324.8 418.3) scale(0.8364 1)">20</text>
<line x1="326.4" y1="384" x2="330.8" y2="384" stroke="#0a0a0a" stroke-width="1.2"/>
<text font-size="6.6" font-weight="bold" stroke="#141414" stroke-width="0.25" text-anchor="end" letter-spacing="0.344" fill="#141414" transform="translate(324.8 386.2) scale(0.8364 1)">40</text>
<line x1="326.4" y1="351.9" x2="330.8" y2="351.9" stroke="#0a0a0a" stroke-width="1.2"/>
<text font-size="6.6" font-weight="bold" stroke="#141414" stroke-width="0.25" text-anchor="end" letter-spacing="0.344" fill="#141414" transform="translate(324.8 354.1) scale(0.8364 1)">60</text>
<line x1="330.8" y1="448.2" x2="330.8" y2="452.7" stroke="#0a0a0a" stroke-width="1.2"/>
<text font-size="6.6" font-weight="bold" stroke="#141414" stroke-width="0.25" text-anchor="middle" letter-spacing="0.344" fill="#141414" transform="translate(330.8 460.6) scale(0.8364 1)">200</text>
<line x1="359.74" y1="448.2" x2="359.74" y2="452.7" stroke="#0a0a0a" stroke-width="1.2"/>
<text font-size="6.6" font-weight="bold" stroke="#141414" stroke-width="0.25" text-anchor="middle" letter-spacing="0.344" fill="#141414" transform="translate(359.74 460.6) scale(0.8364 1)">400</text>
<line x1="388.68" y1="448.2" x2="388.68" y2="452.7" stroke="#0a0a0a" stroke-width="1.2"/>
<text font-size="6.6" font-weight="bold" stroke="#141414" stroke-width="0.25" text-anchor="middle" letter-spacing="0.344" fill="#141414" transform="translate(388.68 460.6) scale(0.8364 1)">600</text>
<line x1="417.62" y1="448.2" x2="417.62" y2="452.7" stroke="#0a0a0a" stroke-width="1.2"/>
<text font-size="6.6" font-weight="bold" stroke="#141414" stroke-width="0.25" text-anchor="middle" letter-spacing="0.344" fill="#141414" transform="translate(417.62 460.6) scale(0.8364 1)">800</text>
<line x1="446.56" y1="448.2" x2="446.56" y2="452.7" stroke="#0a0a0a" stroke-width="1.2"/>
<text font-size="6.6" font-weight="bold" stroke="#141414" stroke-width="0.25" text-anchor="middle" letter-spacing="0.344" fill="#141414" transform="translate(446.56 460.6) scale(0.8364 1)">1000</text>
<line x1="475.5" y1="448.2" x2="475.5" y2="452.7" stroke="#0a0a0a" stroke-width="1.2"/>
<text font-size="6.6" font-weight="bold" stroke="#141414" stroke-width="0.25" text-anchor="middle" letter-spacing="0.344" fill="#141414" transform="translate(475.5 460.6) scale(0.8364 1)">1200</text>
<text font-size="8.14" font-weight="bold" stroke="#141414" stroke-width="0.25" text-anchor="middle" letter-spacing="0.425" fill="#141414" transform="translate(403.5 474.2) scale(0.8364 1)">[Betalain] (uM)</text>
<text font-size="8.25" font-weight="bold" stroke="#141414" stroke-width="0.25" text-anchor="middle" letter-spacing="0.430" fill="#141414" transform="translate(309 400) rotate(-90) scale(0.8364 1)">Transport rate (pmol min<tspan font-size="5.5" dx="1.21" dy="-4.62">−1</tspan><tspan dx="0.66" dy="4.62"> cm</tspan><tspan font-size="5.5" dx="1.21" dy="-4.62">−2</tspan><tspan dx="1.54" dy="4.62">)</tspan></text>
<line x1="362.63" y1="442.17" x2="446.56" y2="409.68" stroke="#333" stroke-width="0.7"/>
<polygon points="362.63,438.56 364.58,441.99 360.69,441.99" fill="#111"/>
<polygon points="382.89,433.46 384.83,436.89 380.95,436.89" fill="#111"/>
<polygon points="410.38,421.96 412.33,425.39 408.44,425.39" fill="#111"/>
<line x1="446.56" y1="406.4" x2="446.56" y2="410" stroke="#444" stroke-width="0.6"/>
<line x1="444.96" y1="406.4" x2="448.16" y2="406.4" stroke="#444" stroke-width="0.6"/>
<line x1="444.96" y1="410" x2="448.16" y2="410" stroke="#444" stroke-width="0.6"/>
<polygon points="446.56,406.16 448.5,409.59 444.62,409.59" fill="#111"/>
<line x1="362.63" y1="435.99" x2="446.56" y2="387.21" stroke="#333" stroke-width="0.7"/>
<rect x="360.78" y="431.55" width="3.7" height="3.7" fill="#111"/>
<line x1="382.89" y1="422.2" x2="382.89" y2="427.8" stroke="#444" stroke-width="0.6"/>
<line x1="381.29" y1="422.2" x2="384.49" y2="422.2" stroke="#444" stroke-width="0.6"/>
<line x1="381.29" y1="427.8" x2="384.49" y2="427.8" stroke="#444" stroke-width="0.6"/>
<rect x="381.04" y="423.15" width="3.7" height="3.7" fill="#111"/>
<line x1="410.38" y1="406.4" x2="410.38" y2="412.8" stroke="#444" stroke-width="0.6"/>
<line x1="408.78" y1="406.4" x2="411.99" y2="406.4" stroke="#444" stroke-width="0.6"/>
<line x1="408.78" y1="412.8" x2="411.99" y2="412.8" stroke="#444" stroke-width="0.6"/>
<rect x="408.53" y="407.75" width="3.7" height="3.7" fill="#111"/>
<line x1="446.56" y1="384.2" x2="446.56" y2="386.2" stroke="#444" stroke-width="0.6"/>
<line x1="444.96" y1="384.2" x2="448.16" y2="384.2" stroke="#444" stroke-width="0.6"/>
<line x1="444.96" y1="386.2" x2="448.16" y2="386.2" stroke="#444" stroke-width="0.6"/>
<rect x="444.71" y="383.35" width="3.7" height="3.7" fill="#111"/>
<line x1="362.63" y1="426.64" x2="446.56" y2="363.62" stroke="#333" stroke-width="0.7"/>
<circle cx="362.63" cy="423.8" r="1.94" fill="#111"/>
<line x1="382.89" y1="408.4" x2="382.89" y2="415.6" stroke="#444" stroke-width="0.6"/>
<line x1="381.29" y1="408.4" x2="384.49" y2="408.4" stroke="#444" stroke-width="0.6"/>
<line x1="381.29" y1="415.6" x2="384.49" y2="415.6" stroke="#444" stroke-width="0.6"/>
<circle cx="382.89" cy="412" r="1.94" fill="#111"/>
<line x1="410.38" y1="384.4" x2="410.38" y2="399.6" stroke="#444" stroke-width="0.6"/>
<line x1="408.78" y1="384.4" x2="411.99" y2="384.4" stroke="#444" stroke-width="0.6"/>
<line x1="408.78" y1="399.6" x2="411.99" y2="399.6" stroke="#444" stroke-width="0.6"/>
<circle cx="410.38" cy="392" r="1.94" fill="#111"/>
<line x1="446.56" y1="356.4" x2="446.56" y2="366.4" stroke="#444" stroke-width="0.6"/>
<line x1="444.96" y1="356.4" x2="448.16" y2="356.4" stroke="#444" stroke-width="0.6"/>
<line x1="444.96" y1="366.4" x2="448.16" y2="366.4" stroke="#444" stroke-width="0.6"/>
<circle cx="446.56" cy="361.4" r="1.94" fill="#111"/>
<text font-size="6.18" stroke="#111" stroke-width="0.15" letter-spacing="0.290" fill="#111" transform="translate(459 355.6) scale(0.8364 1)">Y = 0.0677*X − 15.0</text>
<text font-size="6.18" stroke="#111" stroke-width="0.15" letter-spacing="0.290" fill="#111" transform="translate(459 384) scale(0.8364 1)">Y = 0.0524*X − 14.4</text>
<text font-size="6.18" stroke="#111" stroke-width="0.15" letter-spacing="0.290" fill="#111" transform="translate(459 410.4) scale(0.8364 1)">Y = 0.0349*X − 10.9</text>
<line x1="354" y1="491.6" x2="364.8" y2="491.6" stroke="#222" stroke-width="0.8"/>
<polygon points="359.4,490.06 360.87,492.65 357.93,492.65" fill="#111"/>
<text font-size="6.6" font-weight="bold" stroke="#141414" stroke-width="0.25" letter-spacing="0.344" fill="#141414" transform="translate(371.4 493.8) scale(0.8364 1)">BET</text>
<line x1="390" y1="491.6" x2="400.8" y2="491.6" stroke="#222" stroke-width="0.8"/>
<rect x="394" y="490.2" width="2.8" height="2.8" fill="#111"/>
<text font-size="6.6" font-weight="bold" stroke="#141414" stroke-width="0.25" letter-spacing="0.344" fill="#141414" transform="translate(407.4 493.8) scale(0.8364 1)">VUL</text>
<line x1="429" y1="491.6" x2="439.8" y2="491.6" stroke="#222" stroke-width="0.8"/>
<circle cx="434.4" cy="491.6" r="1.47" fill="#111"/>
<text font-size="6.6" font-weight="bold" stroke="#141414" stroke-width="0.25" letter-spacing="0.344" fill="#141414" transform="translate(446.4 493.8) scale(0.8364 1)">IND</text>
</svg>
</body></html>
